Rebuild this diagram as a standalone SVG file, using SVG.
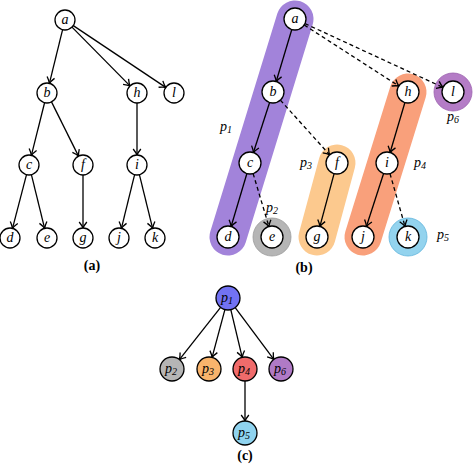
<svg xmlns="http://www.w3.org/2000/svg" width="474" height="474" viewBox="0 0 474 474">
<defs>
<marker id="ar" markerUnits="userSpaceOnUse" markerWidth="12" markerHeight="12" viewBox="-7 -5 8 10" refX="0" refY="0" orient="auto">
<path d="M-5,-3.2 Q-2,-0.8 0,0 Q-2,0.8 -5,3.2" fill="none" stroke="#000" stroke-width="1.1"/>
</marker>
</defs>
<style>
.n{fill:#fff;stroke:#000;stroke-width:1.3}
.e{stroke:#000;stroke-width:1.3;fill:none;marker-end:url(#ar)}
.d{stroke-dasharray:4,3}
text{font-family:'Liberation Serif','DejaVu Serif','Times New Roman',serif}
.t{font-style:italic;font-size:14px;text-anchor:middle}
.s{font-size:10px}
.cap{font-weight:bold;font-size:14px;text-anchor:middle}
.band{stroke-linecap:round;stroke-width:37;fill:none}
</style>
<rect width="474" height="474" fill="#fff"/>

<!-- panel b highlights -->
<g id="highlights">
<line class="band" x1="295" y1="19" x2="228" y2="237" stroke="#a283da"/>
<line class="band" x1="408" y1="92" x2="363" y2="237" stroke="#f9a07b"/>
<line class="band" x1="337" y1="163" x2="317" y2="237" stroke="#fcc98e"/>
<circle cx="272" cy="237" r="19" fill="#b5b5b5" stroke="#9a9a9a" stroke-width="0.8"/>
<circle cx="408" cy="237" r="19" fill="#93d3ee" stroke="#5fb4dc" stroke-width="0.8"/>
<circle cx="453" cy="92" r="19" fill="#b47cc6" stroke="#9c62ae" stroke-width="0.8"/>
</g>

<g id="connectors">
<!-- panel a -->
<line class="e" x1="62.6" y1="29.7" x2="49.4" y2="83.3"/>
<line class="e" x1="72" y1="27.1" x2="130" y2="85.9"/>
<line class="e" x1="73.3" y1="25.6" x2="165.7" y2="87.4"/>
<line class="e" x1="44.6" y1="102.7" x2="31.4" y2="155.3"/>
<line class="e" x1="51.5" y1="101.9" x2="78.5" y2="156.1"/>
<line class="e" x1="137" y1="103" x2="137" y2="155"/>
<line class="e" x1="26.5" y1="174.7" x2="12.5" y2="228.3"/>
<line class="e" x1="31.4" y1="174.7" x2="44.6" y2="228.3"/>
<line class="e" x1="83" y1="175" x2="83" y2="228"/>
<line class="e" x1="134.6" y1="174.7" x2="121.4" y2="228.3"/>
<line class="e" x1="139.4" y1="174.7" x2="152.6" y2="228.3"/>
<!-- panel b -->
<line class="e" x1="291.8" y1="29.5" x2="276.2" y2="81.5"/>
<line class="e d" x1="304.2" y1="25" x2="398.8" y2="86"/>
<line class="e d" x1="305" y1="23.6" x2="443" y2="87.4"/>
<line class="e" x1="269.6" y1="102.5" x2="253.4" y2="152.5"/>
<line class="e d" x1="280.4" y1="100.2" x2="329.6" y2="154.8"/>
<line class="e" x1="246.9" y1="173.5" x2="231.1" y2="226.5"/>
<line class="e d" x1="253.1" y1="173.5" x2="268.9" y2="226.5"/>
<line class="e" x1="334.1" y1="173.6" x2="319.9" y2="226.4"/>
<line class="e" x1="404.9" y1="102.5" x2="390.1" y2="152.5"/>
<line class="e" x1="383.6" y1="173.5" x2="366.4" y2="226.5"/>
<line class="e d" x1="390" y1="173.6" x2="405" y2="226.4"/>
<!-- panel c -->
<line class="e" x1="220.6" y1="307.4" x2="179.4" y2="359.6"/>
<line class="e" x1="224.9" y1="309.6" x2="212.1" y2="357.4"/>
<line class="e" x1="230.8" y1="309.7" x2="242.2" y2="357.3"/>
<line class="e" x1="235.2" y1="307.6" x2="273.8" y2="359.4"/>
<line class="e" x1="245" y1="381" x2="245" y2="421"/>
</g>

<!-- panel a nodes -->
<g id="a-a"><circle class="n" cx="65" cy="20" r="10"/><text class="t" x="65" y="24">a</text></g>
<g id="a-b"><circle class="n" cx="47" cy="93" r="10"/><text class="t" x="47" y="97">b</text></g>
<g id="a-h"><circle class="n" cx="137" cy="93" r="10"/><text class="t" x="137" y="97">h</text></g>
<g id="a-l"><circle class="n" cx="174" cy="93" r="10"/><text class="t" x="174" y="97">l</text></g>
<g id="a-c"><circle class="n" cx="29" cy="165" r="10"/><text class="t" x="29" y="169">c</text></g>
<g id="a-f"><circle class="n" cx="83" cy="165" r="10"/><text class="t" x="83" y="169">f</text></g>
<g id="a-i"><circle class="n" cx="137" cy="165" r="10"/><text class="t" x="137" y="169">i</text></g>
<g id="a-d"><circle class="n" cx="10" cy="238" r="10"/><text class="t" x="10" y="242">d</text></g>
<g id="a-e"><circle class="n" cx="47" cy="238" r="10"/><text class="t" x="47" y="242">e</text></g>
<g id="a-g"><circle class="n" cx="83" cy="238" r="10"/><text class="t" x="83" y="242">g</text></g>
<g id="a-j"><circle class="n" cx="119" cy="238" r="10"/><text class="t" x="119" y="242">j</text></g>
<g id="a-k"><circle class="n" cx="155" cy="238" r="10"/><text class="t" x="155" y="242">k</text></g>
<text class="cap" x="92" y="270">(a)</text>

<!-- panel b nodes -->
<g id="b-a"><circle class="n" cx="295" cy="19" r="11"/><text class="t" x="295" y="23">a</text></g>
<g id="b-b"><circle class="n" cx="273" cy="92" r="11"/><text class="t" x="273" y="96">b</text></g>
<g id="b-h"><circle class="n" cx="408" cy="92" r="11"/><text class="t" x="408" y="96">h</text></g>
<g id="b-l"><circle class="n" cx="453" cy="92" r="11"/><text class="t" x="453" y="96">l</text></g>
<g id="b-c"><circle class="n" cx="250" cy="163" r="11"/><text class="t" x="250" y="167">c</text></g>
<g id="b-f"><circle class="n" cx="337" cy="163" r="11"/><text class="t" x="337" y="167">f</text></g>
<g id="b-i"><circle class="n" cx="387" cy="163" r="11"/><text class="t" x="387" y="167">i</text></g>
<g id="b-d"><circle class="n" cx="228" cy="237" r="11"/><text class="t" x="228" y="241">d</text></g>
<g id="b-e"><circle class="n" cx="272" cy="237" r="11"/><text class="t" x="272" y="241">e</text></g>
<g id="b-g"><circle class="n" cx="317" cy="237" r="11"/><text class="t" x="317" y="241">g</text></g>
<g id="b-j"><circle class="n" cx="363" cy="237" r="11"/><text class="t" x="363" y="241">j</text></g>
<g id="b-k"><circle class="n" cx="408" cy="237" r="11"/><text class="t" x="408" y="241">k</text></g>
<g id="b-labels">
<text class="t" x="226" y="131">p<tspan class="s" dy="2">1</tspan></text>
<text class="t" x="272" y="212">p<tspan class="s" dy="2">2</tspan></text>
<text class="t" x="306" y="167">p<tspan class="s" dy="2">3</tspan></text>
<text class="t" x="420" y="167">p<tspan class="s" dy="2">4</tspan></text>
<text class="t" x="443" y="239">p<tspan class="s" dy="2">5</tspan></text>
<text class="t" x="453" y="121">p<tspan class="s" dy="2">6</tspan></text>
</g>
<text class="cap" x="304" y="272">(b)</text>

<!-- panel c nodes -->
<g id="c-p1"><circle class="n" cx="228" cy="298" r="12" style="fill:#7272f3"/><text class="t" x="227" y="302">p<tspan class="s" dy="2">1</tspan></text></g>
<g id="c-p2"><circle class="n" cx="172" cy="369" r="12" style="fill:#b5b5b5"/><text class="t" x="171" y="373">p<tspan class="s" dy="2">2</tspan></text></g>
<g id="c-p3"><circle class="n" cx="209" cy="369" r="12" style="fill:#f9b46c"/><text class="t" x="208" y="373">p<tspan class="s" dy="2">3</tspan></text></g>
<g id="c-p4"><circle class="n" cx="245" cy="369" r="12" style="fill:#f06b6b"/><text class="t" x="244" y="373">p<tspan class="s" dy="2">4</tspan></text></g>
<g id="c-p6"><circle class="n" cx="281" cy="369" r="12" style="fill:#b07ac6"/><text class="t" x="280" y="373">p<tspan class="s" dy="2">6</tspan></text></g>
<g id="c-p5"><circle class="n" cx="245" cy="433" r="12" style="fill:#8fd3ef"/><text class="t" x="244" y="437">p<tspan class="s" dy="2">5</tspan></text></g>
<text class="cap" x="245" y="460">(c)</text>
</svg>
